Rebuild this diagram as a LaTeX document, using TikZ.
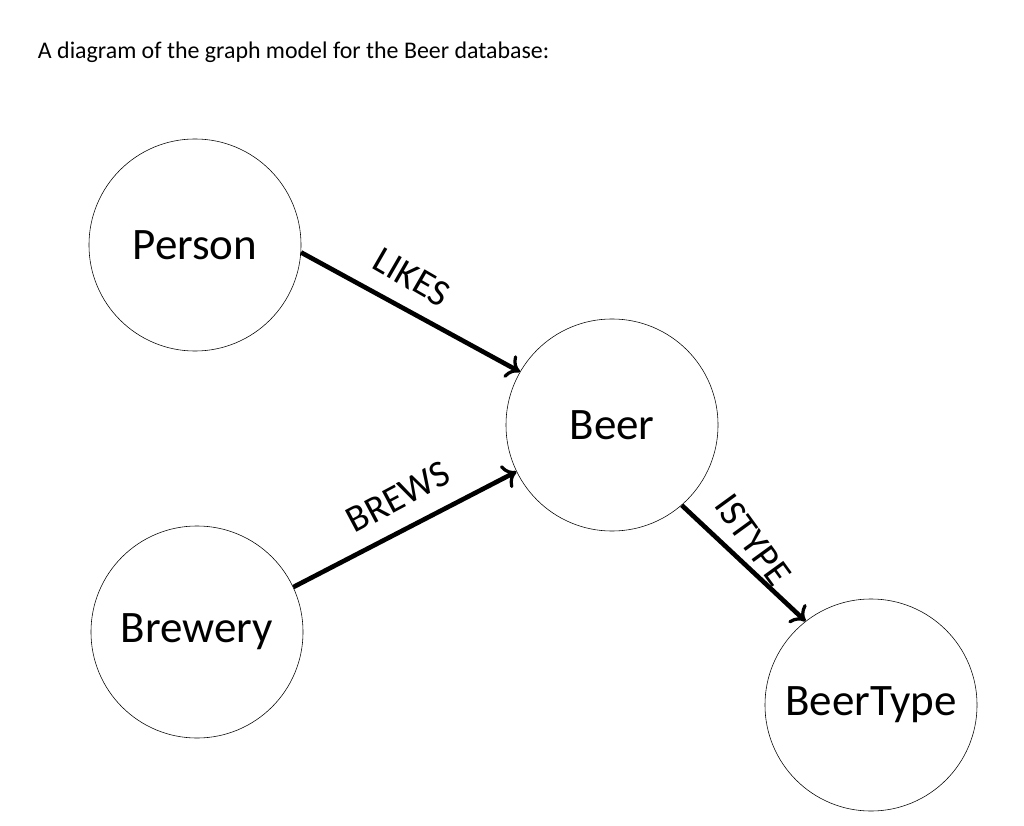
\documentclass[tikz,border=0pt]{standalone}
\usepackage{fontspec}
\setmainfont{Carlito}
\usetikzlibrary{positioning}
\usetikzlibrary{arrows.meta}

\begin{document}
\begin{tikzpicture}[x=0.025cm,y=-0.025cm,
    entity/.style={circle,draw,thin,minimum size=5.3cm,inner sep=0pt,font=\fontsize{32}{38}\selectfont},
    rel/.style={line width=3.3pt,-{To[length=9pt,width=18pt,line width=2.3pt]}},
    rlabel/.style={font=\fontsize{27}{32}\selectfont}]
            \useasboundingbox (0,0) rectangle (1024,826);
            \node[anchor=west,font=\fontsize{17}{20}\selectfont] (title) at (33,52) {A diagram of the graph model for the Beer database:};

            \node[entity] (person) at (195,245) {Person};
            \node[entity] (beer) at (612,425) {Beer};
            \node[entity] (brewery) at (197,632) {Brewery};
            \node[entity] (beertype) at (871,705) {BeerType};

            \draw[rel] (person.-4) -- (beer.150);
            \draw[rel] (brewery.25) -- (beer.206);
            \draw[rel] (beer.-49) -- (beertype.128);

            \node[rlabel,rotate=-30] (likes) at (412,277) {LIKES};
            \node[rlabel,rotate=28] (brews) at (398,497) {BREWS};
            \node[rlabel,rotate=-54] (istype) at (753,540) {ISTYPE};
\end{tikzpicture}
\end{document}
